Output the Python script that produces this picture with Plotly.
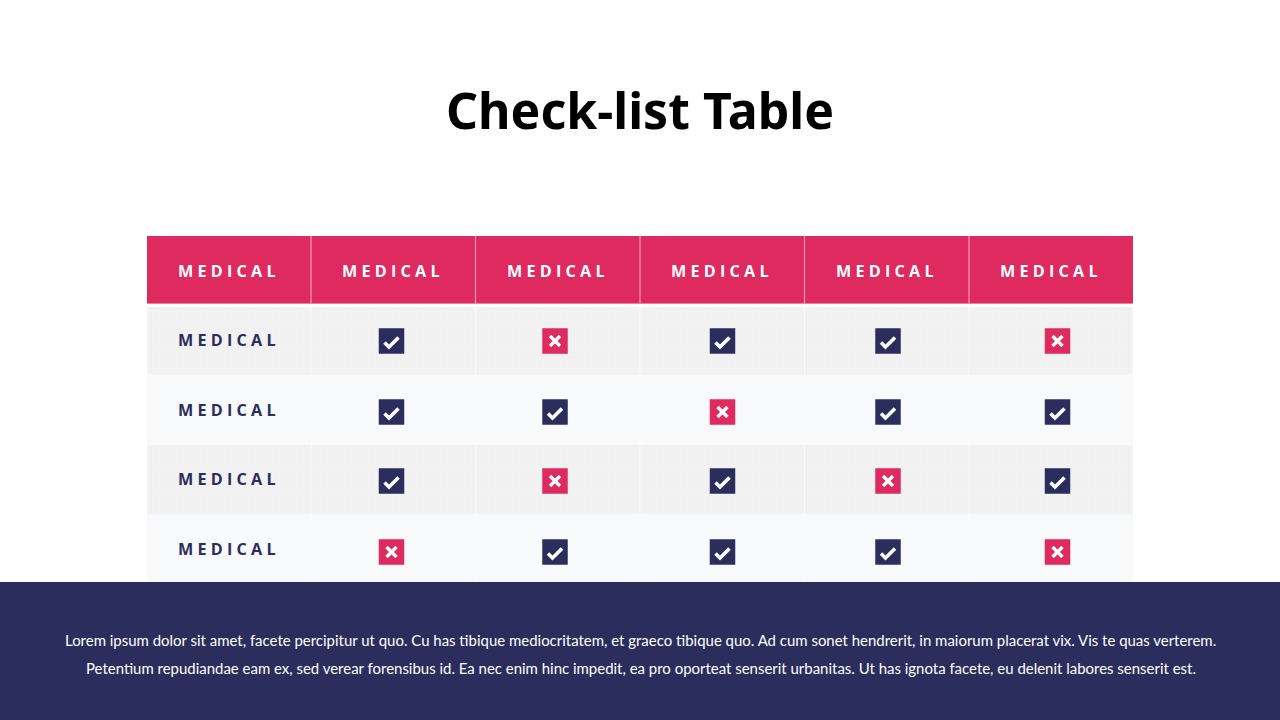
import plotly.graph_objects as go

TITLE = "Check-list Table"
HEADERS = ["MEDICAL"] * 6
ROW_LABELS = ["MEDICAL"] * 4
STATUS = [
    [1, 0, 1, 1, 0],
    [1, 1, 0, 1, 1],
    [1, 0, 1, 0, 1],
    [0, 1, 1, 1, 0],
]
FOOTER = [
    "Lorem ipsum dolor sit amet, facete percipitur ut quo. Cu has tibique mediocritatem, et graeco tibique quo. Ad cum sonet hendrerit, in maiorum placerat vix. Vis te quas verterem.",
    "Petentium repudiandae eam ex, sed verear forensibus id. Ea nec enim hinc impedit, ea pro oporteat senserit urbanitas. Ut has ignota facete, eu delenit labores senserit est.",
]

NAVY = "#2B2E5D"
PINK = "#DF2A60"
COL_EDGES = [147, 311, 475.5, 640, 804.5, 969, 1133]
ROW_EDGES = [307, 375, 445, 514, 582]
ROW_FILL = ["#F2F2F2", "#F8F9FB", "#F2F2F2", "#F8F9FB"]
ROW_TEXTURED = [True, False, True, False]
ICON_X = [391.5, 555, 722.5, 888, 1057.5]
ICON_Y = [341, 412, 481, 552]
LABEL_Y = [340, 410, 479, 549]
SPACED = lambda s: " ".join(s)

shapes = []
def rect(x0, y0, x1, y1, color):
    shapes.append(dict(type="rect", x0=x0, x1=x1, y0=y0, y1=y1, fillcolor=color,
                       line=dict(width=0), layer="below"))
def vline(x, y0, y1, color, w=1):
    shapes.append(dict(type="line", x0=x, x1=x, y0=y0, y1=y1, line=dict(color=color, width=w), layer="below"))

rect(COL_EDGES[0], 236, COL_EDGES[-1], 303.5, PINK)
shapes.append(dict(type="line", x0=COL_EDGES[0], x1=COL_EDGES[-1], y0=303.5, y1=303.5,
                   line=dict(color="#EE7FA0", width=1), layer="below"))
for x in COL_EDGES[1:-1]:
    vline(x, 236, 304, "#F29AB5", 1.2)
rect(COL_EDGES[0], ROW_EDGES[0], COL_EDGES[-1], ROW_EDGES[-1], "#FBFBFC")

fig = go.Figure()
centers = [(a + b) / 2 for a, b in zip(COL_EDGES[:-1], COL_EDGES[1:])]
widths = [b - a - 1 for a, b in zip(COL_EDGES[:-1], COL_EDGES[1:])]
for i, f in enumerate(ROW_FILL):
    pattern = dict(shape=".", size=3, solidity=0.25, fgcolor="#EAEAEA", bgcolor=f) if ROW_TEXTURED[i] else None
    fig.add_trace(go.Bar(x=centers, y=[ROW_EDGES[i + 1] - ROW_EDGES[i]] * 6, base=ROW_EDGES[i], width=widths,
                         hoverinfo="skip",
                         marker=dict(color=f, line=dict(width=0), pattern=pattern)))

good_x, good_y, bad_x, bad_y = [], [], [], []
check_x, check_y = [], []
for r, row in enumerate(STATUS):
    for c, v in enumerate(row):
        x, y = ICON_X[c], ICON_Y[r]
        if v:
            good_x.append(x); good_y.append(y)
            check_x += [x - 7, x - 2.5, x + 7, None]
            check_y += [y + 1.5, y + 6, y - 3.5, None]
        else:
            bad_x.append(x); bad_y.append(y)

fig.add_trace(go.Scatter(x=good_x, y=good_y, mode="markers", hoverinfo="skip",
                         marker=dict(symbol="square", size=25.5, color=NAVY, line=dict(width=0))))
fig.add_trace(go.Scatter(x=bad_x, y=bad_y, mode="markers", hoverinfo="skip",
                         marker=dict(symbol="square", size=25.5, color=PINK, line=dict(width=0))))
fig.add_trace(go.Scatter(x=check_x, y=check_y, mode="lines", hoverinfo="skip",
                         line=dict(color="white", width=3.6), connectgaps=False))
fig.add_trace(go.Scatter(x=bad_x, y=bad_y, mode="markers", hoverinfo="skip",
                         marker=dict(symbol="x-thin", size=10, color="white",
                                     line=dict(width=3.4, color="white"))))

ann = []
def text(x, y, t, size, color, family, bold=False):
    ann.append(dict(x=x, y=y, xref="x", yref="y", text=f"<b>{t}</b>" if bold else t, showarrow=False,
                    xanchor="center", yanchor="middle",
                    font=dict(size=size, color=color, family=family)))

text(640, 110, TITLE, 50, "#000000", "Noto Sans", True)
for i, h in enumerate(HEADERS):
    text(centers[i] - 2, 270.5, SPACED(h), 16.2, "#FFFFFF", "Open Sans", True)
for i, l in enumerate(ROW_LABELS):
    text(226.5, LABEL_Y[i] - 0.5, SPACED(l), 16.2, NAVY, "Open Sans", True)
text(640.5, 640, FOOTER[0], 14.96, "#FFFFFF", "Lato")
text(640.5, 668, FOOTER[1], 14.96, "#FFFFFF", "Lato")

fig.update_layout(
    width=1280, height=720, margin=dict(l=0, r=0, t=0, b=0),
    paper_bgcolor="white", plot_bgcolor="white", showlegend=False, barmode="overlay",
    shapes=shapes + [dict(type="rect", x0=0, x1=1280, y0=582, y1=720, fillcolor=NAVY,
                          line=dict(width=0), layer="above")],
    annotations=ann,
    xaxis=dict(range=[0, 1280], visible=False, fixedrange=True),
    yaxis=dict(range=[720, 0], visible=False, fixedrange=True),
)
fig.write_html("out.html", config={"displayModeBar": False},
               post_script="document.body.style.margin='0';window.dispatchEvent(new Event('resize'));")
